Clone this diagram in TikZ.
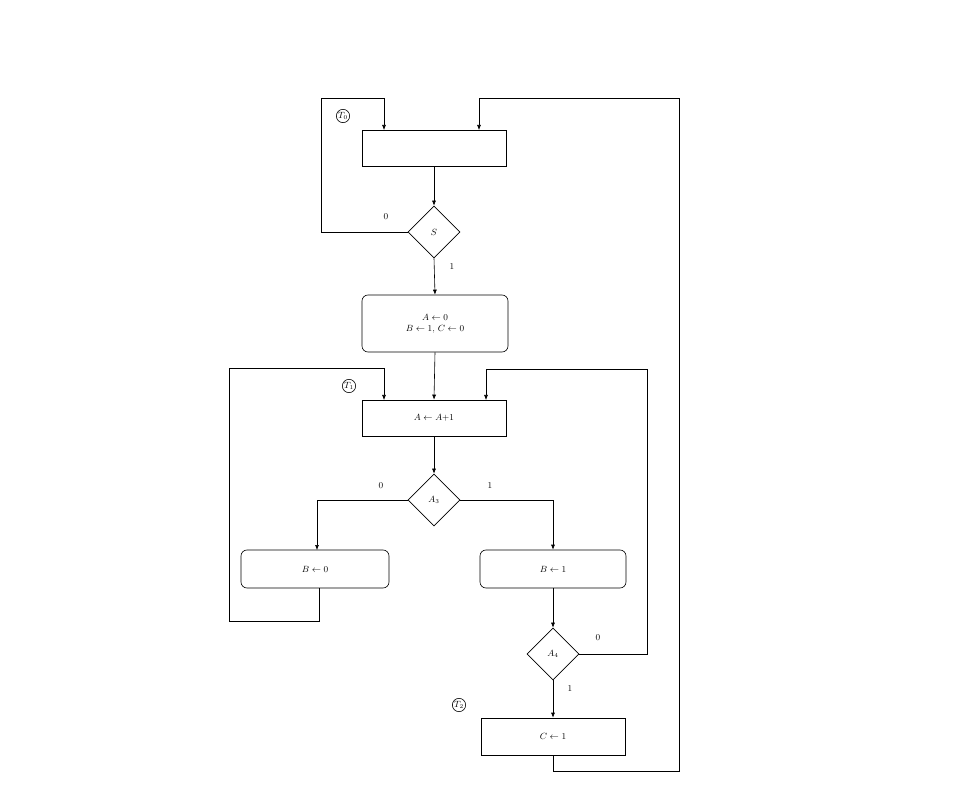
\documentclass[tikz,border=0pt]{standalone}
\usetikzlibrary{shapes.geometric,arrows.meta}
\begin{document}
\begin{tikzpicture}[x=1pt,y=-1pt,
  box/.style={draw,minimum width=144pt,minimum height=36pt,inner sep=0pt,font=\small},
  rbox/.style={box,rounded corners=6pt},
  dia/.style={draw,diamond,aspect=1,minimum width=52pt,minimum height=52pt,inner sep=0pt,font=\small},
  tcirc/.style={draw,circle,inner sep=0.5pt,font=\small},
  lbl/.style={font=\small},
  arr/.style={-{Latex[length=5pt,width=4pt]}},
  line width=0.6pt]
\useasboundingbox (0,0) rectangle (962,802);
\node[box] (b0) at (434,148) {};
\node[dia] (s) at (434,232) {$S$};
\node[rbox,minimum height=57pt,align=center,minimum width=146pt] (b1) at (435,323.5) {$A\leftarrow 0$\\$B\leftarrow 1,\,C\leftarrow 0$};
\node[box] (b2) at (434,418) {$A\leftarrow A{+}1$};
\node[dia] (a3) at (434,500) {$A_3$};
\node[rbox,minimum width=148pt,minimum height=38pt] (bl) at (315,569) {$B\leftarrow 0$};
\node[rbox,minimum width=146pt,minimum height=38pt] (br) at (553,569) {$B\leftarrow 1$};
\node[dia] (a4) at (553,654) {$A_4$};
\node[box,minimum height=37pt] (bc) at (553,736.5) {$C\leftarrow 1$};
\node[tcirc] (t0) at (343,116) {$T_0$};
\node[tcirc] (t1) at (349,386) {$T_1$};
\node[tcirc] (t2) at (459,705) {$T_2$};
\coordinate (b0l) at (384,130);
\coordinate (b0r) at (479,130);
\coordinate (b2l) at (384,400);
\coordinate (b2r) at (486,400);
\draw[arr] (b0) -- (s);
\draw[arr] (s.south) -- (b1.north);
\draw[arr] (b1.south) -- (b2.north);
\draw[arr] (s.west) -| (321,98) -| (b0l);
\draw[arr] (bc.south) |- (679,771) |- (479,98) -- (b0r);
\draw[arr] (b2) -- (a3);
\draw[arr] (a3.west) -| (317,550);
\draw[arr] (a3.east) -| (br.north);
\draw[arr] (319,588) |- (229,621) |- (384,368) -- (b2l);
\draw[arr] (br) -- (a4);
\draw[arr] (a4.east) -| (647,369) -| (b2r);
\draw[arr] (a4) -- (bc);
\node[lbl] (l0) at (386,217) {0};
\node[lbl] (l1) at (452,267) {1};
\node[lbl] (l2) at (381,486) {0};
\node[lbl] (l3) at (490,486) {1};
\node[lbl] (l4) at (598,638) {0};
\node[lbl] (l5) at (570,689) {1};
\end{tikzpicture}
\end{document}
